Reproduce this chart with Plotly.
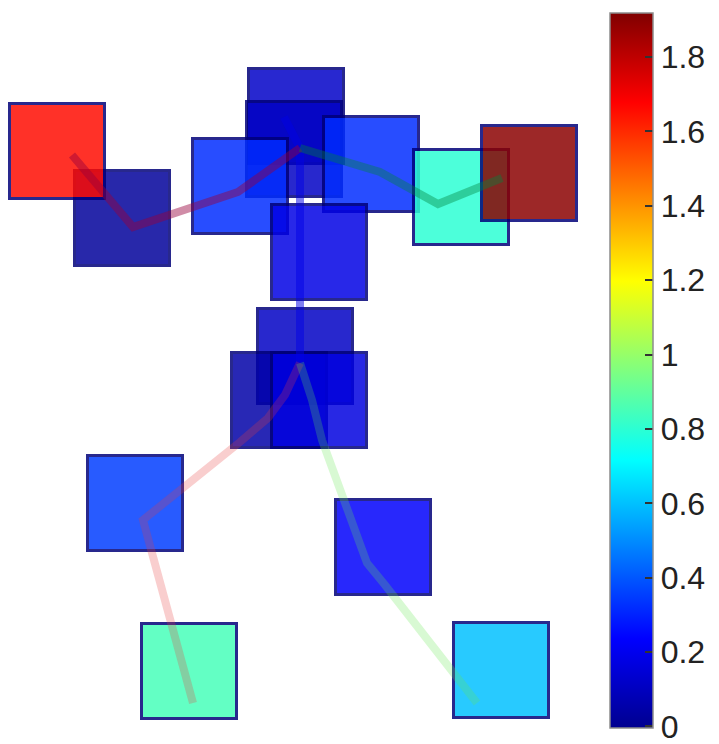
import plotly.graph_objects as go

# Joints (drawing order matters for overlaps)
joint_names = ["LeftElbow", "LeftHand", "Head", "Neck", "LeftShoulder", "RightShoulder",
               "RightElbow", "RightHand", "SpineMid", "SpineBase", "LeftHip", "RightHip",
               "LeftKnee", "RightKnee", "LeftFoot", "RightFoot"]
joint_x = [122, 57, 296, 294, 240, 371, 461, 529, 319, 305, 279, 319, 135, 383, 189, 501]
joint_y = [218, 151, 116, 149, 186, 164, 197, 173, 252, 356, 400, 400, 503, 547, 671, 670]
joint_value = [0.02, 1.66, 0.12, 0.11, 0.32, 0.32, 0.80, 1.90, 0.18, 0.11, 0.05, 0.17,
               0.35, 0.23, 0.85, 0.60]

# Bones (skeleton polylines)
spine_x = [284, 300, 300]
spine_y = [117, 148, 363]
left_arm_x = [300, 238, 133, 72]
left_arm_y = [148, 192, 227, 155]
right_arm_x = [300, 380, 438, 502]
right_arm_y = [148, 172, 204, 178]
left_leg_x = [300, 285, 268, 240, 143, 193]
left_leg_y = [363, 395, 418, 442, 520, 703]
right_leg_x = [300, 312, 322, 367, 385, 477]
right_leg_y = [363, 400, 440, 563, 585, 703]

cbar_ticks = [0, 0.2, 0.4, 0.6, 0.8, 1, 1.2, 1.4, 1.6, 1.8]
cbar_labels = ["0", "0.2", "0.4", "0.6", "0.8", "1", "1.2", "1.4", "1.6", "1.8"]

jet = [[0.0, "rgb(0,0,143)"], [0.125, "rgb(0,0,255)"], [0.375, "rgb(0,255,255)"],
       [0.625, "rgb(255,255,0)"], [0.875, "rgb(255,0,0)"], [1.0, "rgb(128,0,0)"]]

fig = go.Figure()

fig.add_trace(go.Scatter(
    x=joint_x, y=joint_y, mode="markers", hoverinfo="text", text=joint_names,
    marker=dict(symbol="square", size=95, color=joint_value, colorscale=jet,
                cmin=-0.003, cmax=1.92, opacity=0.84,
                line=dict(color="rgb(0,0,120)", width=3),
                colorbar=dict(
                    thickness=43, x=609.5 / 600, xanchor="left", xpad=0, ypad=0,
                    len=715, lenmode="pixels", y=1 - 370 / 744, yanchor="middle",
                    outlinecolor="#8c8c8c", outlinewidth=1.5,
                    ticks="inside", ticklen=8, tickwidth=1.5, tickcolor="#333",
                    tickvals=cbar_ticks, ticktext=cbar_labels,
                    ticklabeloverflow="allow",
                    tickfont=dict(size=32, family="Liberation Sans, Arial", color="#222"),
                )),
    showlegend=False))

bones = [
    (spine_x, spine_y, "rgba(0,0,230,0.5)"),
    (left_arm_x, left_arm_y, "rgba(150,0,60,0.45)"),
    (right_arm_x, right_arm_y, "rgba(0,130,60,0.4)"),
    (left_leg_x, left_leg_y, "rgba(230,60,60,0.25)"),
    (right_leg_x, right_leg_y, "rgba(100,230,80,0.25)"),
]
for bx, by, col in bones:
    fig.add_trace(go.Scatter(x=bx, y=by, mode="lines", hoverinfo="skip",
                             line=dict(color=col, width=8), showlegend=False))

fig.update_layout(
    width=719, height=744, autosize=False,
    margin=dict(l=0, r=119, t=0, b=0),
    plot_bgcolor="white", paper_bgcolor="white",
    xaxis=dict(range=[0, 600], visible=False, fixedrange=True),
    yaxis=dict(range=[744, 0], visible=False, fixedrange=True),
)

fig.write_html("out.html", config={"displayModeBar": False},
               post_script="document.body.style.margin='0';")
